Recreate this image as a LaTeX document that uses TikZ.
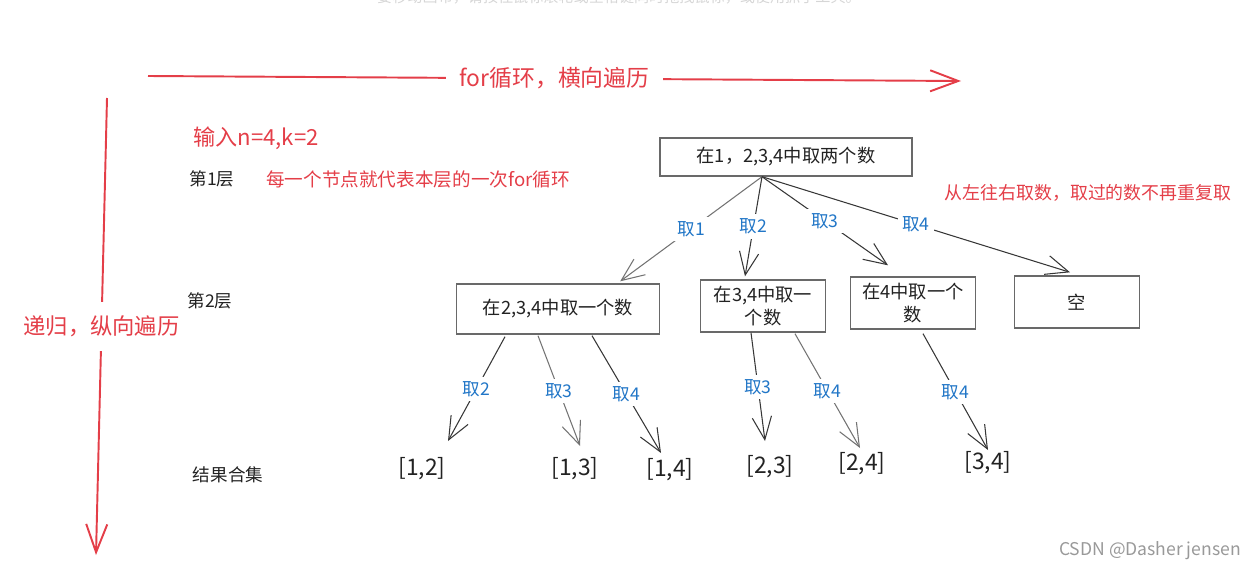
\documentclass[tikz,border=0pt]{standalone}
\usepackage{fontspec}
\setmainfont{Noto Sans CJK SC}
\usetikzlibrary{arrows.meta,calc}
\definecolor{markred}{RGB}{228,62,72}
\definecolor{pickblue}{RGB}{33,118,199}
\definecolor{boxgray}{RGB}{105,105,105}
\definecolor{linedark}{RGB}{55,55,55}
\definecolor{linegray}{RGB}{115,115,115}
\definecolor{darktext}{RGB}{34,34,34}

\begin{document}
\begin{tikzpicture}[x=0.02cm, y=-0.02cm,
    box/.style={draw=boxgray, line width=0.8pt, inner sep=0pt,
                font=\fontsize{10.4}{13}\selectfont, text=darktext, align=center},
    pick/.style={-{Straight Barb[length=13pt,width=11pt]}, draw=linedark, line width=0.6pt},
    take/.style={fill=white, inner sep=2.5pt, text=pickblue, font=\fontsize{10}{12}\selectfont},
    result/.style={font=\fontsize{13}{15}\selectfont, text=darktext},
    layer/.style={font=\fontsize{10}{12}\selectfont, text=darktext},
    note/.style={text=markred, inner sep=0pt},
    sweep/.style={-{Straight Barb[length=16pt,width=12pt]}, draw=markred, line width=1.1pt}
]
\useasboundingbox (0,0) rectangle (1258,571);
\clip (0,0) rectangle (1258,571);

% hint line cut off at the top
\node[anchor=base, text=black!16, font=\fontsize{8.6}{10}\selectfont] (hint) at (619,3)
  {要移动画布，请按住鼠标滚轮或空格键同时拖拽鼠标，或使用抓手工具。};

% directions
\coordinate (hs) at (148,76);
\coordinate (he) at (961,81);
\coordinate (vs) at (107,98);
\coordinate (ve) at (96,555);
\draw[sweep] (hs) -- node[fill=white, inner sep=8pt, text=markred, font=\fontsize{13}{15}\selectfont] {for循环，横向遍历} (he);
\draw[sweep] (vs) -- node[fill=white, inner sep=8pt, text=markred, font=\fontsize{12.7}{15}\selectfont] {递归，纵向遍历} (ve);

% notes
\node[note, font=\fontsize{12.6}{15}\selectfont] (input) at (256,138) {输入n=4,k=2};
\node[note, font=\fontsize{10.6}{13}\selectfont] (each) at (418,179) {每一个节点就代表本层的一次for循环};
\node[note, font=\fontsize{10.2}{13}\selectfont] (order) at (1088,193) {从左往右取数，取过的数不再重复取};

% layers
\node[layer] (L1) at (212,179) {第1层};
\node[layer] (L2) at (210,301) {第2层};
\node[layer] (L3) at (228,475) {结果合集};

% tree
\node[box, minimum width=5.04cm, minimum height=0.76cm] (T) at (786,157) {在1，2,3,4中取两个数};
\node[box, minimum width=4.06cm, minimum height=1.0cm] (A) at (558,309) {在2,3,4中取一个数};
\node[box, minimum width=2.5cm, minimum height=1.04cm] (B) at (763,306) {在3,4中取一\\个数};
\node[box, minimum width=2.5cm, minimum height=1.04cm] (C) at (913,303) {在4中取一个\\数};
\node[box, minimum width=2.5cm, minimum height=1.04cm] (D) at (1077,302) {空};

\node[result] (R12) at (422,469) {[1,2]};
\node[result] (R13) at (575,469) {[1,3]};
\node[result] (R14) at (670,470) {[1,4]};
\node[result] (R23) at (770,467) {[2,3]};
\node[result] (R24) at (862,464) {[2,4]};
\node[result] (R34) at (988,463) {[3,4]};

\draw[pick, draw=linegray] ($(T.south)+(-24,0)$) -- node[take] {取1} ($(A.north east)+(-40,-2)$);
\draw[pick] ($(T.south)+(-24,0)$) -- node[take] {取2} ($(B.north)+(-18,-3)$);
\draw[pick] ($(T.south)+(-24,0)$) -- node[take] {取3} ($(C.north)+(-25,-11)$);
\draw[pick] ($(T.south)+(-24,0)$) -- node[take] {取4} ($(D.north)+(-7,-3)$);

\draw[pick] ($(A.south)+(-53,2)$) -- node[take] {取2} ($(R12)+(26,-28)$);
\draw[pick, draw=linegray] ($(A.south)+(-20,1)$) -- node[take] {取3} ($(R13)+(5,-23)$);
\draw[pick] ($(A.south)+(34,1)$) -- node[take] {取4} ($(R14)+(-9,-17)$);
\draw[pick] ($(B.south)+(-12,0)$) -- node[take] {取3} ($(R23)+(-5,-26)$);
\draw[pick, draw=linegray] ($(B.south)+(32,1)$) -- node[take] {取4} ($(R24)+(-2,-16)$);
\draw[pick] ($(C.south)+(10,4)$) -- node[take] {取4} ($(R34)+(0,-13)$);

\node[text=black!40, font=\fontsize{10}{12}\selectfont] (mark) at (1150,551) {CSDN @Dasher jensen};
\end{tikzpicture}
\end{document}
